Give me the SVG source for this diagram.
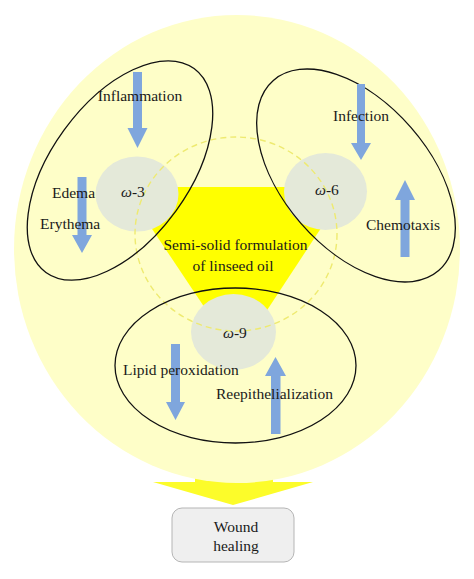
<svg xmlns="http://www.w3.org/2000/svg" width="474" height="579" viewBox="0 0 474 579">
<style>
  text { font-family: "Liberation Serif", "DejaVu Serif", serif; font-size: 15.5px; fill: #1a1a1a; }
  .c { text-anchor: middle; }
  .om { font-style: italic; }
  .grp { fill: none; stroke: #111; stroke-width: 1.3; }
  .omega { fill: #e4e9d9; }
  .blue { fill: #7fa6dd; }
</style>
<rect width="474" height="579" fill="#ffffff"/>
<g id="connectors">
  <path d="M195,455 H273 V482 H313 L233,505 L153,482 H195 Z" fill="#fcfc2a"/>
</g>
<g id="outer-circle">
  <ellipse cx="237" cy="249" rx="223" ry="234" fill="#fefec8"/>
</g>
<g id="formulation">
  <polygon points="124,187 348,187 237,356" fill="#ffff00"/>
</g>
<g id="omega-3"><ellipse class="omega" cx="137" cy="194" rx="41.5" ry="37.5"/></g>
<g id="omega-6"><ellipse class="omega" cx="325.5" cy="191.5" rx="41.5" ry="38.5"/></g>
<g id="omega-9"><ellipse class="omega" cx="233.5" cy="332" rx="42.5" ry="38"/></g>
<g id="dashed-ring">
  <ellipse cx="236" cy="234" rx="101" ry="97" fill="none" stroke="#eeea70" stroke-width="1.4" stroke-dasharray="6 4"/>
</g>
<g id="group-omega3">
  <ellipse class="grp" cx="120" cy="170.5" rx="126" ry="69" transform="rotate(-54 120 170.5)"/>
  <path class="blue" d="M133,72 H142 V128 H147.5 L137.5,148 L127.5,128 H133 Z"/>
  <path class="blue" d="M77.5,177 H86.5 V235 H92 L82,253 L72,235 H77.5 Z"/>
  <text class="c" x="140" y="101">Inflammation</text>
  <text x="52" y="198">Edema</text>
  <text x="40" y="229">Erythema</text>
  <text x="121" y="197"><tspan class="om">ω</tspan>-3</text>
</g>
<g id="group-omega6">
  <ellipse class="grp" cx="356" cy="175.5" rx="126" ry="73" transform="rotate(49 356 175.5)"/>
  <path class="blue" d="M357,84 H365 V143 H371 L361,160 L351,143 H357 Z"/>
  <path class="blue" d="M400.5,257 H409.5 V200 H415 L405,180 L395,200 H400.5 Z"/>
  <text class="c" x="361" y="121">Infection</text>
  <text x="366" y="230">Chemotaxis</text>
  <text x="315" y="195"><tspan class="om">ω</tspan>-6</text>
</g>
<g id="group-omega9">
  <ellipse class="grp" cx="235.5" cy="365.5" rx="120.5" ry="77.5"/>
  <path class="blue" d="M171,344 H180 V402 H185 L175.5,420 L166,402 H171 Z"/>
  <path class="blue" d="M271,434 H280.5 V376 H286 L275.5,357 L265,376 H271 Z"/>
  <text x="123" y="375">Lipid peroxidation</text>
  <text x="216" y="399">Reepithelialization</text>
  <text x="223" y="338"><tspan class="om">ω</tspan>-9</text>
</g>
<g id="formulation-label">
  <text class="c" x="235.5" y="250">Semi-solid formulation</text>
  <text class="c" x="233" y="271">of linseed oil</text>
</g>
<g id="wound-healing">
  <rect x="172" y="508" width="122" height="54" rx="10" fill="#efefef" stroke="#b5b5b5" stroke-width="1"/>
  <text class="c" x="236" y="532">Wound</text>
  <text class="c" x="236" y="551">healing</text>
</g>
</svg>
